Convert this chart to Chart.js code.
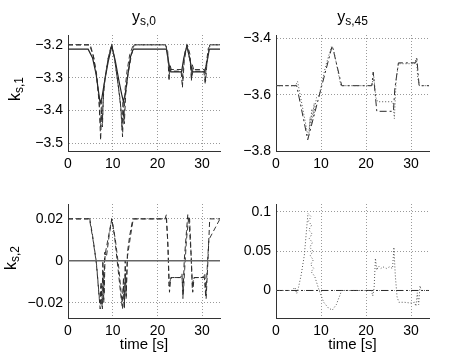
<!DOCTYPE html>
<html><head><meta charset="utf-8">
<script src="https://cdn.jsdelivr.net/npm/chart.js@4"></script>
<style>
html,body{margin:0;padding:0;background:#fff;}
#wrap{position:relative;width:474px;height:358px;overflow:hidden;background:#fff;}
canvas{position:absolute;left:0;top:0;}
</style></head><body><div id="wrap">
<canvas id="c1" width="474" height="358"></canvas>
<canvas id="c2" width="474" height="358"></canvas>
<canvas id="c3" width="474" height="358"></canvas>
<canvas id="c4" width="474" height="358"></canvas>
</div>
<script>
// ---------- tick values and labels ----------
const xTicks = [0, 10, 20, 30];
const xTickLabels = ['0', '10', '20', '30'];
const tlYTicks = [-3.5, -3.4, -3.3, -3.2];
const tlYTickLabels = ['\u22123.5', '\u22123.4', '\u22123.3', '\u22123.2'];
const trYTicks = [-3.8, -3.6, -3.4];
const trYTickLabels = ['\u22123.8', '\u22123.6', '\u22123.4'];
const blYTicks = [-0.02, 0, 0.02];
const blYTickLabels = ['\u22120.02', '0', '0.02'];
const brYTicks = [0, 0.05, 0.1];
const brYTickLabels = ['0', '0.05', '0.1'];

// ---------- top-left: k_s,1 vs y_s,0 ----------
const tlSolidT = [0,4.5,5.5,6.3,6.8,7.2,7.6,8.2,9.0,9.8,10.6,11.4,12.0,12.4,12.8,13.4,14.0,14.6,22.0,22.6,23.0,25.4,25.9,26.6,27.2,27.8,30.5,31.0,31.6,34];
const tlSolidV = [-3.213,-3.213,-3.24,-3.29,-3.34,-3.378,-3.36,-3.31,-3.25,-3.203,-3.25,-3.31,-3.35,-3.373,-3.35,-3.29,-3.235,-3.213,-3.213,-3.26,-3.282,-3.282,-3.24,-3.203,-3.24,-3.282,-3.282,-3.26,-3.213,-3.213];
const tlDashAT = [0,4.8,5.6,6.4,6.9,7.1,7.3,7.5,7.7,7.9,8.3,9.0,9.7,10.4,11.0,11.6,12.0,12.2,12.4,12.6,12.9,13.4,14.2,14.8,21.8,22.3,22.6,22.8,23.2,25.3,25.6,25.8,26.2,26.7,27.3,27.6,27.8,28.2,30.4,30.7,30.9,31.4,32,34];
const tlDashAV = [-3.2,-3.2,-3.23,-3.29,-3.36,-3.42,-3.49,-3.40,-3.45,-3.36,-3.30,-3.24,-3.2,-3.24,-3.30,-3.36,-3.42,-3.48,-3.40,-3.44,-3.35,-3.29,-3.23,-3.2,-3.2,-3.22,-3.31,-3.26,-3.28,-3.28,-3.33,-3.26,-3.22,-3.2,-3.23,-3.31,-3.26,-3.28,-3.28,-3.32,-3.26,-3.21,-3.2,-3.2];
const tlDashBT = [0,5.0,5.8,6.5,7.0,7.3,7.5,7.7,8.0,8.4,9.0,9.8,10.5,11.2,11.8,12.1,12.3,12.5,12.8,13.2,13.8,14.6,21.9,22.4,22.7,23.0,25.4,25.7,26.0,26.6,27.3,27.7,28.0,30.5,30.8,31.1,31.7,34];
const tlDashBV = [-3.2,-3.2,-3.24,-3.31,-3.38,-3.45,-3.36,-3.43,-3.33,-3.29,-3.24,-3.2,-3.25,-3.32,-3.39,-3.46,-3.37,-3.43,-3.33,-3.28,-3.23,-3.2,-3.2,-3.24,-3.29,-3.275,-3.275,-3.31,-3.25,-3.2,-3.25,-3.3,-3.275,-3.275,-3.31,-3.25,-3.2,-3.2];

// ---------- top-right: k_s,1 vs y_s,45 ----------
const trDashDotT = [0,4.6,7.05,12.5,14.6,21.3,21.6,22.4,26.1,26.4,27.2,31.0,31.3,31.8,34];
const trDashDotV = [-3.568,-3.568,-3.76,-3.426,-3.568,-3.568,-3.52,-3.659,-3.659,-3.58,-3.487,-3.487,-3.47,-3.568,-3.568];
const trDotT = [0,4.3,4.8,7.2,7.6,7.4,8.0,7.8,8.5,8.3,9.0,9.6,11.0,12.3,12.8,14.4,21.3,21.7,22.2,22.6,26.0,26.3,26.7,27.2,30.8,31.2,31.5,31.9,34];
const trDotV = [-3.568,-3.568,-3.553,-3.755,-3.68,-3.73,-3.65,-3.71,-3.63,-3.68,-3.61,-3.60,-3.50,-3.43,-3.44,-3.568,-3.568,-3.53,-3.61,-3.625,-3.625,-3.685,-3.55,-3.49,-3.49,-3.47,-3.54,-3.568,-3.568];

// ---------- bottom-left: k_s,2 vs y_s,0 ----------
const blSolidT = [0, 34];
const blSolidV = [0, 0];
const blDashAT = [0,4.5,4.8,5.5,6.3,7.0,7.2,7.4,7.6,7.8,8.0,8.2,8.6,9.2,9.8,10.4,11.0,11.6,12.0,12.2,12.4,12.6,12.8,13.0,13.3,13.8,14.5,21.7,22.0,22.4,22.7,23.0,23.3,25.2,25.5,25.7,26.0,26.5,26.8,27.2,27.6,27.9,28.2,30.3,30.6,30.9,31.3,31.7,34];
const blDashAV = [0.02,0.02,0.021,0.012,0.0,-0.018,-0.023,-0.01,-0.022,0.0,-0.02,0.004,0.002,0.012,0.02,0.012,0.0,-0.012,-0.02,-0.023,-0.008,-0.022,0.0,-0.018,0.004,0.012,0.02,0.02,0.022,0.005,-0.015,-0.008,-0.008,-0.008,-0.006,-0.018,0.0,0.014,0.022,0.02,0.0,-0.015,-0.008,-0.008,-0.006,-0.018,0.0,0.02,0.02];
const blDashBT = [0,4.8,5.6,6.4,7.1,7.4,7.7,7.9,8.1,8.3,9.0,9.8,10.6,11.4,12.1,12.4,12.6,12.8,13.0,13.3,14.0,14.6,22.0,22.3,22.6,22.9,23.2,25.5,25.8,26.1,26.5,27.0,27.5,27.8,28.1,30.5,30.8,31.1,31.5,34];
const blDashBV = [0.02,0.02,0.01,-0.002,-0.02,-0.012,-0.023,-0.005,-0.016,0.003,0.011,0.02,0.01,-0.004,-0.02,-0.012,-0.023,-0.006,-0.017,0.002,0.012,0.02,0.02,0.01,-0.012,-0.009,-0.008,-0.008,-0.016,-0.004,0.01,0.021,0.004,-0.013,-0.008,-0.008,-0.017,-0.005,0.01,0.02];

// ---------- bottom-right: k_s,2 vs y_s,45 ----------
const brDashDotT = [0, 34];
const brDashDotV = [0, 0];
const brDotT = [0,3.5,4.2,4.6,5.0,5.6,6.3,7.1,7.8,7.2,7.9,7.3,8.0,7.4,8.1,7.5,8.2,7.6,8.3,7.7,8.4,7.8,8.6,9.6,10.6,11.6,12.5,13.4,14.6,21.2,21.5,21.8,22.1,22.4,22.8,23.3,23.8,24.5,25.2,25.9,26.2,26.5,26.9,27.3,28.5,30.0,30.8,31.1,31.4,31.7,32.0,32.3,34];
const brDotV = [0,0,0.004,-0.004,0.004,0.02,0.045,0.098,0.094,0.088,0.083,0.077,0.072,0.066,0.061,0.055,0.05,0.044,0.039,0.033,0.028,0.024,0.018,0,-0.015,-0.022,-0.025,-0.018,0,0,-0.007,0.003,0.041,0.026,0.031,0.028,0.03,0.028,0.03,0.028,0.055,0.02,-0.008,-0.015,-0.015,-0.016,-0.015,-0.02,-0.003,-0.018,0.006,0,0];

const FONT = 'Liberation Sans, Arial, Helvetica, sans-serif';
const pts = (t, v) => t.map((x, i) => ({x: x, y: v[i]}));

function line(t, v, color, dash, width) {
  return {data: pts(t, v), borderColor: color, borderWidth: width || 1, borderDash: dash,
          pointRadius: 0, fill: false, tension: 0, spanGaps: true};
}

function drawSub(ctx, base, sub, cx, cy, rotate) {
  ctx.save();
  ctx.translate(cx, cy);
  if (rotate) ctx.rotate(-Math.PI / 2);
  ctx.fillStyle = '#000';
  ctx.textBaseline = 'alphabetic';
  ctx.textAlign = 'left';
  ctx.font = '16px ' + FONT;
  const w1 = ctx.measureText(base).width;
  ctx.font = '12px ' + FONT;
  const w2 = ctx.measureText(sub).width;
  const x0 = -(w1 + w2) / 2;
  ctx.font = '16px ' + FONT;
  ctx.fillText(base, x0, 0);
  ctx.font = '12px ' + FONT;
  ctx.fillText(sub, x0 + w1, 3);
  ctx.restore();
}

const labelPlugin = {
  id: 'labels',
  afterDraw(chart) {
    const o = chart.options.plugins.labels;
    const ctx = chart.ctx;
    const a = chart.chartArea;
    const cx = (a.left + a.right) / 2;
    const cy = (a.top + a.bottom) / 2;
    if (o.title) drawSub(ctx, o.title[0], o.title[1], cx, o.titleY, false);
    if (o.ylabel) drawSub(ctx, o.ylabel[0], o.ylabel[1], o.ylabelX, cy + (o.ylabelDy || 0), true);
    if (o.xlabel) {
      ctx.save();
      ctx.font = '15px ' + FONT;
      ctx.fillStyle = '#000';
      ctx.textAlign = 'center';
      ctx.textBaseline = 'alphabetic';
      ctx.fillText(o.xlabel, cx, o.xlabelY);
      ctx.restore();
    }
  }
};

function makePanel(id, p) {
  const YW = 60, XH = 26;
  const tickFont = {family: FONT, size: 14};
  new Chart(document.getElementById(id), {
    type: 'line',
    data: {datasets: p.datasets},
    plugins: [labelPlugin],
    options: {
      responsive: false, animation: false, events: [],
      layout: {padding: {left: p.x0 - YW, right: 474 - p.x1, top: p.y0, bottom: 358 - p.y1 - XH}},
      plugins: {legend: {display: false}, tooltip: {enabled: false},
        labels: p.labels},
      scales: {
        x: {type: 'linear', min: 0, max: 34,
          afterBuildTicks: s => { s.ticks = xTicks.map(v => ({value: v})); },
          afterFit: s => { s.height = XH; },
          ticks: {callback: (v, i) => xTickLabels[i], color: '#000', font: tickFont, padding: 5, maxRotation: 0, autoSkip: false},
          grid: {color: '#9a9a9a', lineWidth: 1, drawTicks: false},
          border: {display: true, color: '#333', width: 1, dash: [1, 2]}
        },
        y: {type: 'linear', min: p.yMin, max: p.yMax,
          afterBuildTicks: s => { s.ticks = p.yTicks.map(v => ({value: v})); },
          afterFit: s => { s.width = YW; },
          ticks: {callback: (v, i) => p.yTickLabels[i], color: '#000', font: tickFont, padding: 5, autoSkip: false},
          grid: {color: '#9a9a9a', lineWidth: 1, drawTicks: false},
          border: {display: true, color: '#333', width: 1, dash: [1, 2]}
        }
      }
    }
  });
}

const dashed = [5, 3];
const dashDot = [7, 3, 2, 3];
const dotted = [1, 2];

makePanel('c1', {x0: 68, x1: 220, y0: 35, y1: 151, yMin: -3.523, yMax: -3.17,
  yTicks: tlYTicks, yTickLabels: tlYTickLabels,
  labels: {title: ['y', 's,0'], titleY: 22, ylabel: ['k', 's,1'], ylabelX: 20, ylabelDy: -4},
  datasets: [
    line(tlDashAT, tlDashAV, '#2a2a2a', dashed, 1),
    line(tlDashBT, tlDashBV, '#3a3a3a', dashed, 1),
    line(tlSolidT, tlSolidV, '#222', [], 1.2)
  ]});

makePanel('c2', {x0: 276, x1: 429, y0: 35, y1: 151, yMin: -3.8, yMax: -3.388,
  yTicks: trYTicks, yTickLabels: trYTickLabels,
  labels: {title: ['y', 's,45'], titleY: 22},
  datasets: [
    line(trDotT, trDotV, '#555', dotted, 1),
    line(trDashDotT, trDashDotV, '#2a2a2a', dashDot, 1)
  ]});

makePanel('c3', {x0: 68, x1: 220, y0: 204, y1: 318, yMin: -0.0273, yMax: 0.0271,
  yTicks: blYTicks, yTickLabels: blYTickLabels,
  labels: {ylabel: ['k', 's,2'], ylabelX: 16, ylabelDy: -3, xlabel: 'time [s]', xlabelY: 349},
  datasets: [
    line(blSolidT, blSolidV, '#666', [], 1.5),
    line(blDashAT, blDashAV, '#2a2a2a', dashed, 1),
    line(blDashBT, blDashBV, '#3a3a3a', dashed, 1)
  ]});

makePanel('c4', {x0: 276, x1: 429, y0: 204, y1: 318, yMin: -0.035, yMax: 0.110,
  yTicks: brYTicks, yTickLabels: brYTickLabels,
  labels: {xlabel: 'time [s]', xlabelY: 349},
  datasets: [
    line(brDotT, brDotV, '#555', dotted, 1),
    line(brDashDotT, brDashDotV, '#2a2a2a', dashDot, 1)
  ]});
</script>
</body></html>
